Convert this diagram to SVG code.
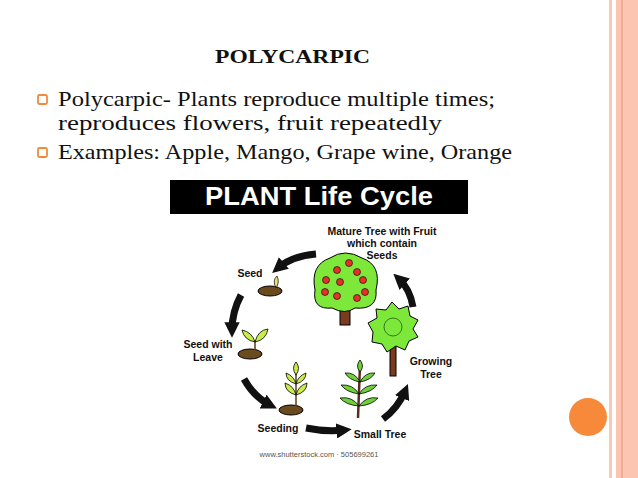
<svg xmlns="http://www.w3.org/2000/svg" width="638" height="478" viewBox="0 0 638 478">
<style>
.t{font-family:"Liberation Serif",serif;font-size:21px;fill:#111}
.l{font-family:"Liberation Sans",Arial,sans-serif;font-weight:bold;font-size:10.5px;fill:#111;text-anchor:middle}
.arr{fill:none;stroke:#111;stroke-width:7;marker-end:url(#ah)}
.soil{fill:#6b4a1e;stroke:#000;stroke-width:1}
.leaf{fill:#c8ec4a;stroke:#000;stroke-width:0.8}
.gl{fill:#6fd13a;stroke:#000;stroke-width:0.8}
</style>
<defs>
<marker id="ah" viewBox="0 0 10 10" refX="5" refY="5" markerWidth="2.2" markerHeight="2.2" orient="auto"><path d="M0,0L10,5L0,10z" fill="#111"/></marker>
</defs>
<rect width="638" height="478" fill="#fff"/>
<g id="border">
<rect x="609" y="0" width="3" height="478" fill="#f9c9b8"/>
<rect x="616" y="0" width="22" height="478" fill="#fbc5b2"/>
<rect x="621" y="0" width="2" height="478" fill="#f2ad95"/>
<circle cx="588" cy="417" r="19" fill="#f7893a"/>
</g>
<g id="text">
<text x="215" y="63" textLength="155" lengthAdjust="spacingAndGlyphs" style="font-family:'Liberation Serif',serif;font-weight:bold;font-size:18px;fill:#111">POLYCARPIC</text>
<rect x="38" y="95" width="9" height="9" fill="none" stroke="#f08a3c" stroke-width="1.8" rx="1.5"/>
<text class="t" x="58" y="106" textLength="437" lengthAdjust="spacingAndGlyphs">Polycarpic- Plants reproduce multiple times;</text>
<text class="t" x="58" y="130" textLength="384" lengthAdjust="spacingAndGlyphs">reproduces flowers, fruit  repeatedly</text>
<rect x="38" y="148" width="9" height="9" fill="none" stroke="#f08a3c" stroke-width="1.8" rx="1.5"/>
<text class="t" x="58" y="159" textLength="454" lengthAdjust="spacingAndGlyphs">Examples: Apple, Mango, Grape wine, Orange</text>
</g>
<g id="banner">
<rect x="170" y="180" width="298" height="34" fill="#000"/>
<text x="205" y="205" textLength="228" lengthAdjust="spacingAndGlyphs" style="font-family:'Liberation Sans',Arial,sans-serif;font-weight:bold;font-size:25px;fill:#fff">PLANT Life Cycle</text>
</g>
<g id="connectors">
<path class="arr" d="M316,254 Q292,256 278,268"/>
<path class="arr" d="M241,295 Q232,312 232,330"/>
<path class="arr" d="M244,379 Q254,397 270,405"/>
<path class="arr" d="M306,428 Q326,432 344,430"/>
<path class="arr" d="M383,419 Q398,408 405,391"/>
<path class="arr" d="M413,307 Q410,289 399,279"/>
</g>
<g id="mature">
<rect x="340" y="295" width="10" height="30" fill="#7a3b1e" stroke="#000"/>
<path d="M315,290 Q310,265 330,258 Q345,248 362,258 Q382,265 376,290 Q378,310 355,308 Q345,315 332,308 Q312,310 315,290z" fill="#7ee83a" stroke="#000"/>
<g fill="#e8302a" stroke="#000" stroke-width="0.6">
<circle cx="349" cy="263" r="3.5"/><circle cx="337" cy="270" r="3.5"/><circle cx="357" cy="272" r="3.5"/><circle cx="326" cy="280" r="3.5"/><circle cx="340" cy="282" r="3.5"/><circle cx="363" cy="280" r="3.5"/><circle cx="325" cy="292" r="3.5"/><circle cx="365" cy="292" r="3.5"/><circle cx="337" cy="296" r="3.5"/><circle cx="357" cy="298" r="3.5"/>
</g>
<text class="l" x="382" y="235">Mature Tree with Fruit</text>
<text class="l" x="382" y="247">which contain</text>
<text class="l" x="382" y="259">Seeds</text>
</g>
<g id="seed">
<ellipse cx="270" cy="291" rx="12" ry="5" class="soil"/>
<path d="M276,288 Q272,280 277,276 Q280,282 276,288z" fill="#e8e07a" stroke="#000" stroke-width="0.7"/>
<text class="l" x="250" y="277">Seed</text>
</g>
<g id="leave">
<ellipse cx="250" cy="354" rx="12" ry="5" class="soil"/>
<path d="M255,350 L255,340" stroke="#5a3a1e" stroke-width="1.5"/>
<path class="leaf" d="M255,342 Q244,340 242,330 Q252,332 255,342z"/>
<path class="leaf" d="M255,342 Q266,340 268,329 Q258,330 255,342z"/>
<text class="l" x="208" y="348">Seed with</text>
<text class="l" x="208" y="361">Leave</text>
</g>
<g id="seeding">
<ellipse cx="291" cy="410" rx="12" ry="5" class="soil"/>
<path d="M296,406 L296,365" stroke="#5a3a1e" stroke-width="1.5"/>
<path class="leaf" d="M296,395 Q285,392 285,383 Q294,386 296,395z"/>
<path class="leaf" d="M296,395 Q307,392 307,383 Q298,386 296,395z"/>
<path class="leaf" d="M296,384 Q286,381 286,373 Q294,376 296,384z"/>
<path class="leaf" d="M296,384 Q306,381 306,373 Q298,376 296,384z"/>
<path class="leaf" d="M296,375 Q291,368 296,362 Q301,368 296,375z"/>
<text class="l" x="278" y="432">Seeding</text>
</g>
<g id="smalltree">
<path d="M358,418 L360,365" stroke="#5a2e1e" stroke-width="2.5"/>
<path class="gl" d="M359,406 Q346,405 340,398 Q352,396 359,406z"/>
<path class="gl" d="M359,406 Q372,405 378,398 Q366,396 359,406z"/>
<path class="gl" d="M359,394 Q346,392 341,385 Q353,384 359,394z"/>
<path class="gl" d="M359,394 Q372,392 377,385 Q365,384 359,394z"/>
<path class="gl" d="M360,382 Q349,380 345,373 Q355,372 360,382z"/>
<path class="gl" d="M360,382 Q371,380 375,373 Q365,372 360,382z"/>
<path class="gl" d="M360,372 Q355,366 360,360 Q365,366 360,372z"/>
<text class="l" x="380" y="438">Small Tree</text>
</g>
<g id="growing">
<rect x="390" y="340" width="6" height="36" fill="#7a3b1e" stroke="#000"/>
<path d="M373,332 L368,323 L377,318 L376,309 L386,310 L392,302 L399,309 L408,306 L410,316 L418,320 L413,329 L418,337 L409,341 L405,350 L396,346 L387,352 L382,344 L372,342z" fill="#7ee83a" stroke="#000"/>
<circle cx="393" cy="327" r="9" fill="none" stroke="#2f7a1a" stroke-width="1"/>
<text class="l" x="431" y="365">Growing</text>
<text class="l" x="431" y="378">Tree</text>
</g>
<text x="319" y="457" text-anchor="middle" style="font-family:'Liberation Sans',Arial,sans-serif;font-size:7.5px;fill:#555">www.shutterstock.com · 505699261</text>
</svg>
